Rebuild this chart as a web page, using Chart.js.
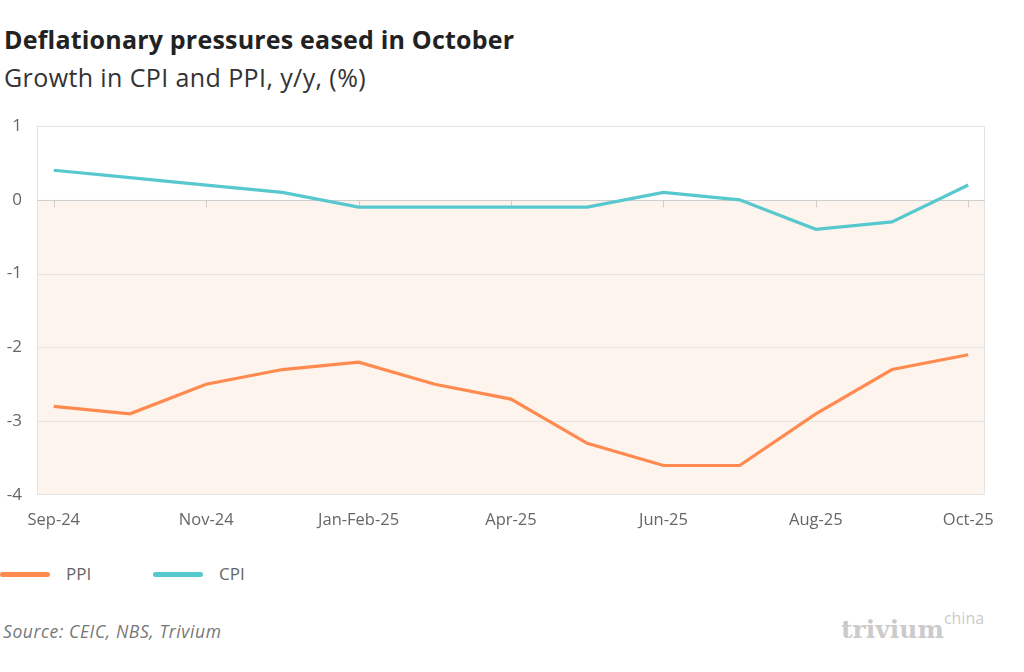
<!DOCTYPE html>
<html>
<head>
<meta charset="utf-8">
<script src="https://cdn.jsdelivr.net/npm/chart.js@4"></script>
<style>
  html, body { margin: 0; padding: 0; background: #fff; }
  body { width: 1024px; height: 672px; position: relative; overflow: hidden; font-family: "Open Sans", Lato, sans-serif; }
  #title { position: absolute; left: 4px; top: 22px; font-size: 25px; font-weight: 700; color: #222; letter-spacing: 0.2px; }
  #subtitle { position: absolute; left: 4px; top: 60px; font-size: 25px; color: #333; letter-spacing: 0.4px; }
  #wrap { position: absolute; left: 0; top: 0; width: 1024px; height: 545px; }
  #legend { position: absolute; left: 0; top: 562px; font-size: 17px; color: #666; }
  .item { position: absolute; top: 0; white-space: nowrap; }
  .swatch { position: absolute; top: 10px; width: 50px; height: 5px; border-radius: 3px; }
  .lbl { position: absolute; left: 66px; top: 0; }
  #source { position: absolute; left: 3px; top: 619px; font-size: 17.5px; font-style: italic; color: #777; letter-spacing: 0.6px; }
  #logo { position: absolute; left: 841px; top: 612px; color: #cbcbcb; font-family: "DejaVu Serif", serif; font-weight: 700; font-size: 25px; }
  #logo sup { font-family: "Open Sans", sans-serif; font-weight: 400; font-size: 16px; position: relative; top: -5px; margin-left: 0; }
</style>
</head>
<body>
<div id="title">Deflationary pressures eased in October</div>
<div id="subtitle">Growth in CPI and PPI, y/y, (%)</div>
<div id="wrap"><canvas id="chart"></canvas></div>
<div id="legend">
  <div class="item" style="left:0"><div class="swatch" style="background:#ff8a4f"></div><span class="lbl">PPI</span></div>
  <div class="item" style="left:153px"><div class="swatch" style="background:#57c8cd"></div><span class="lbl">CPI</span></div>
</div>
<div id="source">Source: CEIC, NBS, Trivium</div>
<div id="logo">trivium<sup>china</sup></div>
<script>
const months = ['Sep-24', 'Oct-24', 'Nov-24', 'Dec-24', 'Jan-Feb-25', 'Mar-25', 'Apr-25',
  'May-25', 'Jun-25', 'Jul-25', 'Aug-25', 'Sep-25', 'Oct-25'];
const ppi = [-2.8, -2.9, -2.5, -2.3, -2.2, -2.5, -2.7, -3.3, -3.6, -3.6, -2.9, -2.3, -2.1];
const cpi = [0.4, 0.3, 0.2, 0.1, -0.1, -0.1, -0.1, -0.1, 0.1, 0.0, -0.4, -0.3, 0.2];
const labelTicks = [0, 2, 4, 6, 8, 10, 12];

const toPoints = (arr) => arr.map((v, i) => ({ x: i, y: v }));

// fondo bajo cero, marco del área y marcas sobre la línea del cero
const backdrop = {
  id: 'backdrop',
  beforeDatasetsDraw(chart) {
    const { ctx, chartArea: a, scales: { x, y } } = chart;
    const y0 = y.getPixelForValue(0);
    ctx.save();
    ctx.fillStyle = '#fdf4ee';
    ctx.fillRect(a.left, y0, a.right - a.left, a.bottom - y0);
    ctx.strokeStyle = '#e4e4e4';
    ctx.lineWidth = 1;
    [-1, -2, -3].forEach((v) => {
      const py = Math.round(y.getPixelForValue(v)) + 0.5;
      ctx.beginPath(); ctx.moveTo(a.left, py); ctx.lineTo(a.right, py); ctx.stroke();
    });
    ctx.strokeRect(a.left + 0.5, a.top + 0.5, a.right - a.left - 1, a.bottom - a.top - 1);
    ctx.strokeStyle = '#cfcfcf';
    const zy = Math.round(y0) + 0.5;
    ctx.beginPath(); ctx.moveTo(a.left, zy); ctx.lineTo(a.right, zy); ctx.stroke();
    labelTicks.forEach((t) => {
      const px = Math.round(x.getPixelForValue(t)) + 0.5;
      ctx.beginPath(); ctx.moveTo(px, zy); ctx.lineTo(px, zy + 7); ctx.stroke();
    });
    ctx.restore();
  },
};

new Chart(document.getElementById('chart'), {
  type: 'line',
  data: {
    datasets: [
      { label: 'PPI', data: toPoints(ppi), borderColor: '#ff8a4f', borderWidth: 3.2, pointRadius: 0, tension: 0 },
      { label: 'CPI', data: toPoints(cpi), borderColor: '#57c8cd', borderWidth: 3.2, pointRadius: 0, tension: 0 },
    ],
  },
  options: {
    responsive: true, maintainAspectRatio: false, animation: false,
    layout: { padding: { top: 126, right: 39, left: 0, bottom: 0 } },
    plugins: { legend: { display: false }, tooltip: { enabled: false } },
    scales: {
      x: {
        type: 'linear', min: -0.22, max: 12.22,
        afterBuildTicks: (s) => { s.ticks = labelTicks.map((v) => ({ value: v })); },
        afterFit: (s) => { s.height = 50; },
        grid: { display: false, drawTicks: false },
        border: { display: false },
        ticks: { color: '#666', font: { family: 'Open Sans', size: 16.5 }, padding: 15, maxRotation: 0,
          autoSkip: false, callback: (v) => months[v] },
      },
      y: {
        min: -4, max: 1,
        afterFit: (s) => { s.width = 37; },
        grid: { display: false, drawTicks: false },
        border: { display: false },
        ticks: { stepSize: 1, color: '#666', font: { family: 'Open Sans', size: 17 }, padding: 15 },
      },
    },
  },
  plugins: [backdrop],
});
</script>
</body>
</html>
